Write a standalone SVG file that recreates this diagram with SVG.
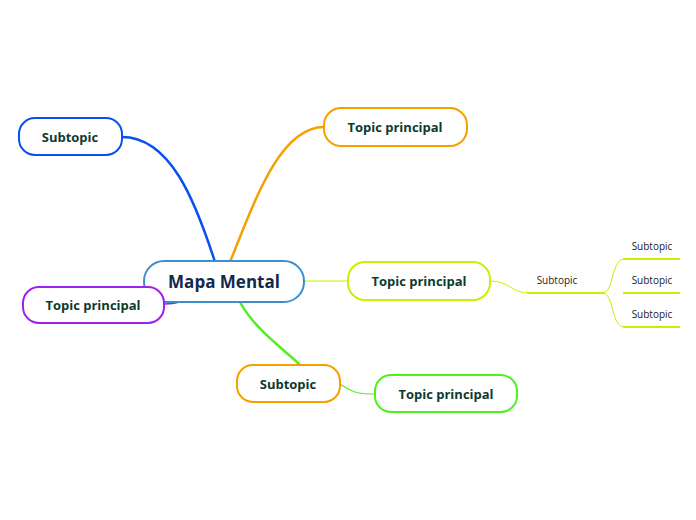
<svg xmlns="http://www.w3.org/2000/svg" width="696" height="520" viewBox="0 0 696 520">
<style>
.n{fill:#fff;stroke-width:2}
.t{font-family:"Open Sans","Noto Sans",sans-serif;font-weight:bold;font-size:13px;fill:#0d3b2e;text-anchor:middle}
.s{font-family:"Open Sans","Noto Sans",sans-serif;font-size:10px;fill:#222;text-anchor:middle}
.c{fill:none}
</style>
<rect width="696" height="520" fill="#fff"/>
<g id="connectors">
<path class="c" d="M215,262 C195,200 170,137 122,137" stroke="#0a50f0" stroke-width="2.5"/>
<path class="c" d="M230,262 C255,200 280,127 324,127" stroke="#f5a000" stroke-width="2.5"/>
<path class="c" d="M304,281 L348,281" stroke="#c8f000" stroke-width="1"/>
<path class="c" d="M240,302 C255,330 285,350 300,365" stroke="#50f020" stroke-width="2.5"/>
<path class="c" d="M340,384 C355,394 360,394 375,394" stroke="#50f020" stroke-width="1.2"/>
<path class="c" d="M182,301 C175,304 170,304 164,304" stroke="#a020f0" stroke-width="1.5"/>
<path class="c" d="M490,281 C510,281 510,293 530,293" stroke="#c8f000" stroke-width="1"/>
<path class="c" d="M527,293 L605,293" stroke="#c8f000" stroke-width="2"/>
<path class="c" d="M602,293 C615,293 610,259 625,259 M602,293 C615,293 610,327 625,327" stroke="#c8f000" stroke-width="1"/>
<path class="c" d="M623,259 L680,259 M623,293 L680,293 M623,327 L680,327" stroke="#c8f000" stroke-width="2"/>
</g>
<g id="center"><rect class="n" x="144" y="261" width="160" height="41" rx="20" stroke="#3a8fd0"/><text x="224" y="288" class="t" style="font-size:17px;fill:#13294b">Mapa Mental</text></g>
<g id="n1"><rect class="n" x="19" y="118" width="103" height="37" rx="16" stroke="#0a50f0"/><text x="70" y="142" class="t">Subtopic</text></g>
<g id="n2"><rect class="n" x="324" y="108" width="143" height="38" rx="17" stroke="#f5a000"/><text x="395" y="132" class="t">Topic principal</text></g>
<g id="n3"><rect class="n" x="348" y="262" width="142" height="38" rx="17" stroke="#c8f000"/><text x="419" y="286" class="t">Topic principal</text></g>
<g id="n4"><rect class="n" x="23" y="287" width="141" height="36" rx="16" stroke="#a020f0"/><text x="93" y="310" class="t">Topic principal</text></g>
<g id="n5"><rect class="n" x="237" y="365" width="103" height="37" rx="16" stroke="#f5a000"/><text x="288" y="389" class="t">Subtopic</text></g>
<g id="n6"><rect class="n" x="375" y="375" width="142" height="37" rx="16" stroke="#50f020"/><text x="446" y="399" class="t">Topic principal</text></g>
<g id="s1"><text x="557" y="284" class="s">Subtopic</text></g>
<g id="s2"><text x="652" y="250" class="s">Subtopic</text></g>
<g id="s3"><text x="652" y="284" class="s">Subtopic</text></g>
<g id="s4"><text x="652" y="318" class="s">Subtopic</text></g>
</svg>
